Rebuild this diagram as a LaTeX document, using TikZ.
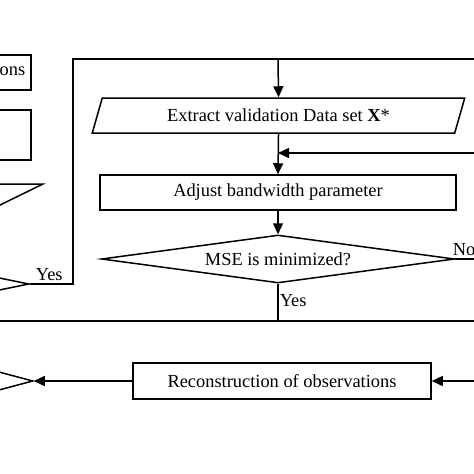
\documentclass[tikz,border=0pt]{standalone}
\usepackage{fontspec}
\setmainfont{Liberation Serif}
\usetikzlibrary{arrows.meta, shapes.geometric}

\begin{document}
\begin{tikzpicture}[
  x=1pt, y=-1pt,
  font=\fontsize{18.4}{20}\selectfont,
  line width=1.5pt,
  box/.style={
    draw=black, rectangle, inner sep=0pt,
    minimum height=35pt, fill=white
  },
  iobox/.style={
    draw=black, trapezium, trapezium left angle=64, trapezium right angle=116,
    trapezium stretches=true, inner sep=0pt, minimum height=35pt
  },
  decide/.style={
    draw=black, diamond, inner sep=0pt, minimum height=48pt
  },
  arr/.style={draw, -{Triangle[length=11pt, width=10pt]}},
  lbl/.style={inner sep=1pt},
]

\clip (0,0) rectangle (474,474);

%% ====================================================================
%%  LEFT COLUMN (cut off)
%% ====================================================================
\node[box, minimum width=91pt] (obsbox) at (-14.5, 72.5) {};
\node[lbl, anchor=east] (obstxt) at (27, 71) {ons};

\node[box, minimum width=91pt, minimum height=50pt] (leftbox) at (-14.5, 135) {};

\node[iobox, minimum width=200pt, minimum height=49pt] (leftio) at (-57, 208.5) {\strut};

\node[decide, aspect=4.8, minimum width=232pt] (leftdec) at (-87, 284) {\strut};

\node[decide, aspect=3.7, minimum width=178pt] (botdec) at (-56, 381) {\strut};

%% ====================================================================
%%  BANDWIDTH LOOP
%% ====================================================================
\node[iobox, minimum width=373pt] (extract) at (278.5, 115.5)
  {Extract validation Data set \textbf{X}*};

\node[box, minimum width=356pt] (adjust) at (278, 192.5)
  {Adjust bandwidth parameter};

\node[decide, aspect=7.3, minimum width=353pt] (mse) at (278, 259)
  {MSE is minimized?};

\node[box, minimum width=298pt, minimum height=36pt] (recon) at (282, 381)
  {Reconstruction of observations};

%% -- helper points --
\coordinate (topjoin) at (278, 59);
\coordinate (topright) at (480, 59);
\coordinate (fbright) at (480, 153);
\coordinate (fbjoin) at (278, 153);
\coordinate (noright) at (480, 259);
\coordinate (yesjoin) at (278, 321);
\coordinate (botleft) at (-6, 321);
\coordinate (botright) at (480, 321);
\coordinate (recright) at (480, 381);

%% -- arrows --
\draw (leftdec.east) -- node[lbl, above, pos=0.45, yshift=2pt] (yesleft) {Yes} (73, 284)
  -- (73, 59) -- (topright);
\draw[arr] (topjoin) -- (extract.north);
\draw[arr] (extract.south) -- (adjust.north);
\draw[arr] (fbright) -- (fbjoin);
\draw[arr] (adjust.south) -- (mse.north);
\draw (mse.east) -- (noright);
\node[inner sep=0pt, anchor=south west] (nolbl) at (452, 256) {No};
\draw (mse.south) -- node[lbl, right, pos=0.45] (yeslbl) {Yes} (yesjoin);
\draw (botleft) -- (botright);
\draw[arr] (recright) -- (recon.east);
\draw[arr] (recon.west) -- (botdec.east);

\end{tikzpicture}
\end{document}
